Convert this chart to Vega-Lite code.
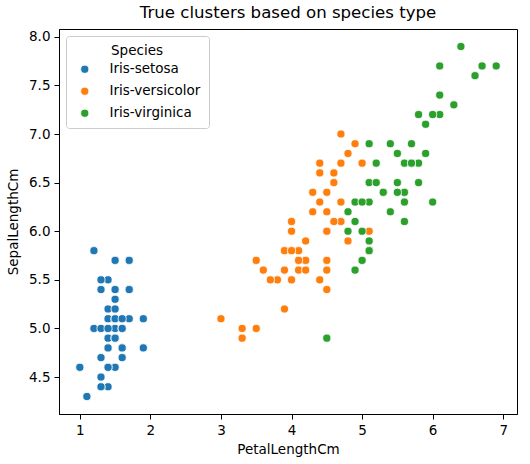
{
  "$schema": "https://vega.github.io/schema/vega-lite/v6.json",
  "width": 458,
  "height": 385,
  "autosize": "none",
  "padding": {"left": 59, "top": 29, "right": 13, "bottom": 50},
  "background": "white",
  "title": {"text": "True clusters based on species type", "fontSize": 16.6, "fontWeight": "normal", "font": "DejaVu Sans", "color": "black", "offset": 7},
  "config": {
    "font": "DejaVu Sans",
    "view": {"stroke": "black", "strokeWidth": 1},
    "axis": {"grid": false, "domainColor": "black", "tickColor": "black", "tickSize": 5, "labelFontSize": 13.5, "titleFontSize": 13.5, "labelColor": "black", "titleColor": "black", "titleFontWeight": "normal", "labelPadding": 4, "domainWidth": 1}
  },
  "data": {
    "values": [
      {"PetalLengthCm": 1.4, "SepalLengthCm": 5.1, "Species": "Iris-setosa"},
      {"PetalLengthCm": 1.4, "SepalLengthCm": 4.9, "Species": "Iris-setosa"},
      {"PetalLengthCm": 1.3, "SepalLengthCm": 4.7, "Species": "Iris-setosa"},
      {"PetalLengthCm": 1.5, "SepalLengthCm": 4.6, "Species": "Iris-setosa"},
      {"PetalLengthCm": 1.4, "SepalLengthCm": 5.0, "Species": "Iris-setosa"},
      {"PetalLengthCm": 1.7, "SepalLengthCm": 5.4, "Species": "Iris-setosa"},
      {"PetalLengthCm": 1.4, "SepalLengthCm": 4.6, "Species": "Iris-setosa"},
      {"PetalLengthCm": 1.5, "SepalLengthCm": 5.0, "Species": "Iris-setosa"},
      {"PetalLengthCm": 1.4, "SepalLengthCm": 4.4, "Species": "Iris-setosa"},
      {"PetalLengthCm": 1.5, "SepalLengthCm": 4.9, "Species": "Iris-setosa"},
      {"PetalLengthCm": 1.5, "SepalLengthCm": 5.4, "Species": "Iris-setosa"},
      {"PetalLengthCm": 1.6, "SepalLengthCm": 4.8, "Species": "Iris-setosa"},
      {"PetalLengthCm": 1.4, "SepalLengthCm": 4.8, "Species": "Iris-setosa"},
      {"PetalLengthCm": 1.1, "SepalLengthCm": 4.3, "Species": "Iris-setosa"},
      {"PetalLengthCm": 1.2, "SepalLengthCm": 5.8, "Species": "Iris-setosa"},
      {"PetalLengthCm": 1.5, "SepalLengthCm": 5.7, "Species": "Iris-setosa"},
      {"PetalLengthCm": 1.3, "SepalLengthCm": 5.4, "Species": "Iris-setosa"},
      {"PetalLengthCm": 1.4, "SepalLengthCm": 5.1, "Species": "Iris-setosa"},
      {"PetalLengthCm": 1.7, "SepalLengthCm": 5.7, "Species": "Iris-setosa"},
      {"PetalLengthCm": 1.5, "SepalLengthCm": 5.1, "Species": "Iris-setosa"},
      {"PetalLengthCm": 1.7, "SepalLengthCm": 5.4, "Species": "Iris-setosa"},
      {"PetalLengthCm": 1.5, "SepalLengthCm": 5.1, "Species": "Iris-setosa"},
      {"PetalLengthCm": 1.0, "SepalLengthCm": 4.6, "Species": "Iris-setosa"},
      {"PetalLengthCm": 1.7, "SepalLengthCm": 5.1, "Species": "Iris-setosa"},
      {"PetalLengthCm": 1.9, "SepalLengthCm": 4.8, "Species": "Iris-setosa"},
      {"PetalLengthCm": 1.6, "SepalLengthCm": 5.0, "Species": "Iris-setosa"},
      {"PetalLengthCm": 1.6, "SepalLengthCm": 5.0, "Species": "Iris-setosa"},
      {"PetalLengthCm": 1.5, "SepalLengthCm": 5.2, "Species": "Iris-setosa"},
      {"PetalLengthCm": 1.4, "SepalLengthCm": 5.2, "Species": "Iris-setosa"},
      {"PetalLengthCm": 1.6, "SepalLengthCm": 4.7, "Species": "Iris-setosa"},
      {"PetalLengthCm": 1.6, "SepalLengthCm": 4.8, "Species": "Iris-setosa"},
      {"PetalLengthCm": 1.5, "SepalLengthCm": 5.4, "Species": "Iris-setosa"},
      {"PetalLengthCm": 1.5, "SepalLengthCm": 5.2, "Species": "Iris-setosa"},
      {"PetalLengthCm": 1.4, "SepalLengthCm": 5.5, "Species": "Iris-setosa"},
      {"PetalLengthCm": 1.5, "SepalLengthCm": 4.9, "Species": "Iris-setosa"},
      {"PetalLengthCm": 1.2, "SepalLengthCm": 5.0, "Species": "Iris-setosa"},
      {"PetalLengthCm": 1.3, "SepalLengthCm": 5.5, "Species": "Iris-setosa"},
      {"PetalLengthCm": 1.5, "SepalLengthCm": 4.9, "Species": "Iris-setosa"},
      {"PetalLengthCm": 1.3, "SepalLengthCm": 4.4, "Species": "Iris-setosa"},
      {"PetalLengthCm": 1.5, "SepalLengthCm": 5.1, "Species": "Iris-setosa"},
      {"PetalLengthCm": 1.3, "SepalLengthCm": 5.0, "Species": "Iris-setosa"},
      {"PetalLengthCm": 1.3, "SepalLengthCm": 4.5, "Species": "Iris-setosa"},
      {"PetalLengthCm": 1.3, "SepalLengthCm": 4.4, "Species": "Iris-setosa"},
      {"PetalLengthCm": 1.6, "SepalLengthCm": 5.0, "Species": "Iris-setosa"},
      {"PetalLengthCm": 1.9, "SepalLengthCm": 5.1, "Species": "Iris-setosa"},
      {"PetalLengthCm": 1.4, "SepalLengthCm": 4.8, "Species": "Iris-setosa"},
      {"PetalLengthCm": 1.6, "SepalLengthCm": 5.1, "Species": "Iris-setosa"},
      {"PetalLengthCm": 1.4, "SepalLengthCm": 4.6, "Species": "Iris-setosa"},
      {"PetalLengthCm": 1.5, "SepalLengthCm": 5.3, "Species": "Iris-setosa"},
      {"PetalLengthCm": 1.4, "SepalLengthCm": 5.0, "Species": "Iris-setosa"},
      {"PetalLengthCm": 4.7, "SepalLengthCm": 7.0, "Species": "Iris-versicolor"},
      {"PetalLengthCm": 4.5, "SepalLengthCm": 6.4, "Species": "Iris-versicolor"},
      {"PetalLengthCm": 4.9, "SepalLengthCm": 6.9, "Species": "Iris-versicolor"},
      {"PetalLengthCm": 4.0, "SepalLengthCm": 5.5, "Species": "Iris-versicolor"},
      {"PetalLengthCm": 4.6, "SepalLengthCm": 6.5, "Species": "Iris-versicolor"},
      {"PetalLengthCm": 4.5, "SepalLengthCm": 5.7, "Species": "Iris-versicolor"},
      {"PetalLengthCm": 4.7, "SepalLengthCm": 6.3, "Species": "Iris-versicolor"},
      {"PetalLengthCm": 3.3, "SepalLengthCm": 4.9, "Species": "Iris-versicolor"},
      {"PetalLengthCm": 4.6, "SepalLengthCm": 6.6, "Species": "Iris-versicolor"},
      {"PetalLengthCm": 3.9, "SepalLengthCm": 5.2, "Species": "Iris-versicolor"},
      {"PetalLengthCm": 3.5, "SepalLengthCm": 5.0, "Species": "Iris-versicolor"},
      {"PetalLengthCm": 4.2, "SepalLengthCm": 5.9, "Species": "Iris-versicolor"},
      {"PetalLengthCm": 4.0, "SepalLengthCm": 6.0, "Species": "Iris-versicolor"},
      {"PetalLengthCm": 4.7, "SepalLengthCm": 6.1, "Species": "Iris-versicolor"},
      {"PetalLengthCm": 3.6, "SepalLengthCm": 5.6, "Species": "Iris-versicolor"},
      {"PetalLengthCm": 4.4, "SepalLengthCm": 6.7, "Species": "Iris-versicolor"},
      {"PetalLengthCm": 4.5, "SepalLengthCm": 5.6, "Species": "Iris-versicolor"},
      {"PetalLengthCm": 4.1, "SepalLengthCm": 5.8, "Species": "Iris-versicolor"},
      {"PetalLengthCm": 4.5, "SepalLengthCm": 6.2, "Species": "Iris-versicolor"},
      {"PetalLengthCm": 3.9, "SepalLengthCm": 5.6, "Species": "Iris-versicolor"},
      {"PetalLengthCm": 4.8, "SepalLengthCm": 5.9, "Species": "Iris-versicolor"},
      {"PetalLengthCm": 4.0, "SepalLengthCm": 6.1, "Species": "Iris-versicolor"},
      {"PetalLengthCm": 4.9, "SepalLengthCm": 6.3, "Species": "Iris-versicolor"},
      {"PetalLengthCm": 4.7, "SepalLengthCm": 6.1, "Species": "Iris-versicolor"},
      {"PetalLengthCm": 4.3, "SepalLengthCm": 6.4, "Species": "Iris-versicolor"},
      {"PetalLengthCm": 4.4, "SepalLengthCm": 6.6, "Species": "Iris-versicolor"},
      {"PetalLengthCm": 4.8, "SepalLengthCm": 6.8, "Species": "Iris-versicolor"},
      {"PetalLengthCm": 5.0, "SepalLengthCm": 6.7, "Species": "Iris-versicolor"},
      {"PetalLengthCm": 4.5, "SepalLengthCm": 6.0, "Species": "Iris-versicolor"},
      {"PetalLengthCm": 3.5, "SepalLengthCm": 5.7, "Species": "Iris-versicolor"},
      {"PetalLengthCm": 3.8, "SepalLengthCm": 5.5, "Species": "Iris-versicolor"},
      {"PetalLengthCm": 3.7, "SepalLengthCm": 5.5, "Species": "Iris-versicolor"},
      {"PetalLengthCm": 3.9, "SepalLengthCm": 5.8, "Species": "Iris-versicolor"},
      {"PetalLengthCm": 5.1, "SepalLengthCm": 6.0, "Species": "Iris-versicolor"},
      {"PetalLengthCm": 4.5, "SepalLengthCm": 5.4, "Species": "Iris-versicolor"},
      {"PetalLengthCm": 4.5, "SepalLengthCm": 6.0, "Species": "Iris-versicolor"},
      {"PetalLengthCm": 4.7, "SepalLengthCm": 6.7, "Species": "Iris-versicolor"},
      {"PetalLengthCm": 4.4, "SepalLengthCm": 6.3, "Species": "Iris-versicolor"},
      {"PetalLengthCm": 4.1, "SepalLengthCm": 5.6, "Species": "Iris-versicolor"},
      {"PetalLengthCm": 4.0, "SepalLengthCm": 5.5, "Species": "Iris-versicolor"},
      {"PetalLengthCm": 4.4, "SepalLengthCm": 5.5, "Species": "Iris-versicolor"},
      {"PetalLengthCm": 4.6, "SepalLengthCm": 6.1, "Species": "Iris-versicolor"},
      {"PetalLengthCm": 4.0, "SepalLengthCm": 5.8, "Species": "Iris-versicolor"},
      {"PetalLengthCm": 3.3, "SepalLengthCm": 5.0, "Species": "Iris-versicolor"},
      {"PetalLengthCm": 4.2, "SepalLengthCm": 5.6, "Species": "Iris-versicolor"},
      {"PetalLengthCm": 4.2, "SepalLengthCm": 5.7, "Species": "Iris-versicolor"},
      {"PetalLengthCm": 4.2, "SepalLengthCm": 5.7, "Species": "Iris-versicolor"},
      {"PetalLengthCm": 4.3, "SepalLengthCm": 6.2, "Species": "Iris-versicolor"},
      {"PetalLengthCm": 3.0, "SepalLengthCm": 5.1, "Species": "Iris-versicolor"},
      {"PetalLengthCm": 4.1, "SepalLengthCm": 5.7, "Species": "Iris-versicolor"},
      {"PetalLengthCm": 6.0, "SepalLengthCm": 6.3, "Species": "Iris-virginica"},
      {"PetalLengthCm": 5.1, "SepalLengthCm": 5.8, "Species": "Iris-virginica"},
      {"PetalLengthCm": 5.9, "SepalLengthCm": 7.1, "Species": "Iris-virginica"},
      {"PetalLengthCm": 5.6, "SepalLengthCm": 6.3, "Species": "Iris-virginica"},
      {"PetalLengthCm": 5.8, "SepalLengthCm": 6.5, "Species": "Iris-virginica"},
      {"PetalLengthCm": 6.6, "SepalLengthCm": 7.6, "Species": "Iris-virginica"},
      {"PetalLengthCm": 4.5, "SepalLengthCm": 4.9, "Species": "Iris-virginica"},
      {"PetalLengthCm": 6.3, "SepalLengthCm": 7.3, "Species": "Iris-virginica"},
      {"PetalLengthCm": 5.8, "SepalLengthCm": 6.7, "Species": "Iris-virginica"},
      {"PetalLengthCm": 6.1, "SepalLengthCm": 7.2, "Species": "Iris-virginica"},
      {"PetalLengthCm": 5.1, "SepalLengthCm": 6.5, "Species": "Iris-virginica"},
      {"PetalLengthCm": 5.3, "SepalLengthCm": 6.4, "Species": "Iris-virginica"},
      {"PetalLengthCm": 5.5, "SepalLengthCm": 6.8, "Species": "Iris-virginica"},
      {"PetalLengthCm": 5.0, "SepalLengthCm": 5.7, "Species": "Iris-virginica"},
      {"PetalLengthCm": 5.1, "SepalLengthCm": 5.8, "Species": "Iris-virginica"},
      {"PetalLengthCm": 5.3, "SepalLengthCm": 6.4, "Species": "Iris-virginica"},
      {"PetalLengthCm": 5.5, "SepalLengthCm": 6.5, "Species": "Iris-virginica"},
      {"PetalLengthCm": 6.7, "SepalLengthCm": 7.7, "Species": "Iris-virginica"},
      {"PetalLengthCm": 6.9, "SepalLengthCm": 7.7, "Species": "Iris-virginica"},
      {"PetalLengthCm": 5.0, "SepalLengthCm": 6.0, "Species": "Iris-virginica"},
      {"PetalLengthCm": 5.7, "SepalLengthCm": 6.9, "Species": "Iris-virginica"},
      {"PetalLengthCm": 4.9, "SepalLengthCm": 5.6, "Species": "Iris-virginica"},
      {"PetalLengthCm": 6.7, "SepalLengthCm": 7.7, "Species": "Iris-virginica"},
      {"PetalLengthCm": 4.9, "SepalLengthCm": 6.3, "Species": "Iris-virginica"},
      {"PetalLengthCm": 5.7, "SepalLengthCm": 6.7, "Species": "Iris-virginica"},
      {"PetalLengthCm": 6.0, "SepalLengthCm": 7.2, "Species": "Iris-virginica"},
      {"PetalLengthCm": 4.8, "SepalLengthCm": 6.2, "Species": "Iris-virginica"},
      {"PetalLengthCm": 4.9, "SepalLengthCm": 6.1, "Species": "Iris-virginica"},
      {"PetalLengthCm": 5.6, "SepalLengthCm": 6.4, "Species": "Iris-virginica"},
      {"PetalLengthCm": 5.8, "SepalLengthCm": 7.2, "Species": "Iris-virginica"},
      {"PetalLengthCm": 6.1, "SepalLengthCm": 7.4, "Species": "Iris-virginica"},
      {"PetalLengthCm": 6.4, "SepalLengthCm": 7.9, "Species": "Iris-virginica"},
      {"PetalLengthCm": 5.6, "SepalLengthCm": 6.4, "Species": "Iris-virginica"},
      {"PetalLengthCm": 5.1, "SepalLengthCm": 6.3, "Species": "Iris-virginica"},
      {"PetalLengthCm": 5.6, "SepalLengthCm": 6.1, "Species": "Iris-virginica"},
      {"PetalLengthCm": 6.1, "SepalLengthCm": 7.7, "Species": "Iris-virginica"},
      {"PetalLengthCm": 5.6, "SepalLengthCm": 6.3, "Species": "Iris-virginica"},
      {"PetalLengthCm": 5.5, "SepalLengthCm": 6.4, "Species": "Iris-virginica"},
      {"PetalLengthCm": 4.8, "SepalLengthCm": 6.0, "Species": "Iris-virginica"},
      {"PetalLengthCm": 5.4, "SepalLengthCm": 6.9, "Species": "Iris-virginica"},
      {"PetalLengthCm": 5.6, "SepalLengthCm": 6.7, "Species": "Iris-virginica"},
      {"PetalLengthCm": 5.1, "SepalLengthCm": 6.9, "Species": "Iris-virginica"},
      {"PetalLengthCm": 5.1, "SepalLengthCm": 5.8, "Species": "Iris-virginica"},
      {"PetalLengthCm": 5.9, "SepalLengthCm": 6.8, "Species": "Iris-virginica"},
      {"PetalLengthCm": 5.7, "SepalLengthCm": 6.7, "Species": "Iris-virginica"},
      {"PetalLengthCm": 5.2, "SepalLengthCm": 6.7, "Species": "Iris-virginica"},
      {"PetalLengthCm": 5.0, "SepalLengthCm": 6.3, "Species": "Iris-virginica"},
      {"PetalLengthCm": 5.2, "SepalLengthCm": 6.5, "Species": "Iris-virginica"},
      {"PetalLengthCm": 5.4, "SepalLengthCm": 6.2, "Species": "Iris-virginica"},
      {"PetalLengthCm": 5.1, "SepalLengthCm": 5.9, "Species": "Iris-virginica"}
    ]
  },
  "mark": {"type": "point", "shape": "circle", "filled": true, "opacity": 1, "size": 66, "stroke": "white", "strokeWidth": 0.8},
  "encoding": {
    "x": {
      "field": "PetalLengthCm", "type": "quantitative",
      "scale": {"domain": [0.705, 7.195], "nice": false, "zero": false},
      "axis": {"values": [1, 2, 3, 4, 5, 6, 7], "format": "d", "title": "PetalLengthCm", "titlePadding": 6}
    },
    "y": {
      "field": "SepalLengthCm", "type": "quantitative",
      "scale": {"domain": [4.12, 8.08], "nice": false, "zero": false},
      "axis": {"values": [4.5, 5.0, 5.5, 6.0, 6.5, 7.0, 7.5, 8.0], "format": ".1f", "title": "SepalLengthCm", "titlePadding": 8}
    },
    "color": {
      "field": "Species", "type": "nominal",
      "scale": {"domain": ["Iris-setosa", "Iris-versicolor", "Iris-virginica"], "range": ["#1f77b4", "#ff7f0e", "#2ca02c"]},
      "legend": {
        "orient": "top-left", "offset": 7, "title": "Species",
        "titleFontSize": 13.5, "titleFontWeight": "normal", "titleColor": "black", "titleAnchor": "middle",
        "labelFontSize": 13.5, "labelColor": "black",
        "symbolType": "circle", "symbolSize": 66, "symbolStrokeColor": "white", "symbolStrokeWidth": 0.8, "symbolOpacity": 1,
        "symbolOffset": 4,
        "strokeColor": "#cccccc", "fillColor": "rgba(255,255,255,0.8)", "cornerRadius": 3, "padding": 8,
        "rowPadding": 7, "labelOffset": 18, "titlePadding": 5
      }
    }
  }
}
